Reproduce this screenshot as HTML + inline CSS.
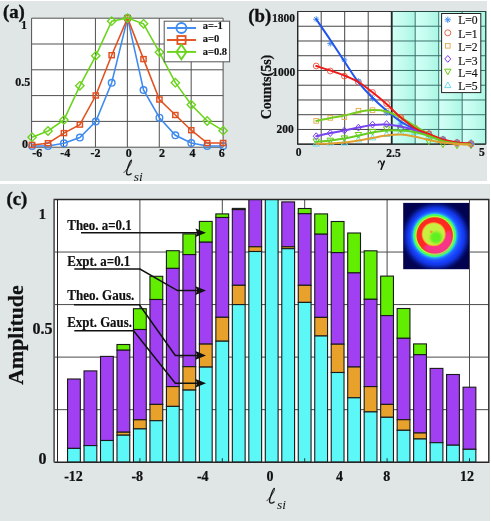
<!DOCTYPE html><html><head><meta charset="utf-8"><style>html,body{margin:0;padding:0;background:#fff;width:491px;height:521px;overflow:hidden}svg{display:block;will-change:transform}</style></head><body>
<svg width="491" height="521" viewBox="0 0 491 521">
<defs>
<linearGradient id="cg" x1="0" x2="1" y1="0" y2="0"><stop offset="0" stop-color="#d4fff8"/><stop offset="0.5" stop-color="#c2fcee"/><stop offset="1" stop-color="#aaf6e4"/></linearGradient>
<radialGradient id="beam" cx="0.5" cy="0.5" r="0.5"><stop offset="0" stop-color="#ffff40"/><stop offset="0.3" stop-color="#d0f040"/><stop offset="0.38" stop-color="#ff4080"/><stop offset="0.55" stop-color="#ff2020"/><stop offset="0.65" stop-color="#ff3030"/><stop offset="0.72" stop-color="#60ff40"/><stop offset="0.78" stop-color="#20e0ff"/><stop offset="0.86" stop-color="#2060ff"/><stop offset="1" stop-color="#1020c0" stop-opacity="0"/></radialGradient>
<clipPath id="clipc"><rect x="54" y="199.5" width="435" height="263"/></clipPath>
</defs>
<rect x="0" y="1" width="487" height="180" fill="#dfe6e5"/>
<rect x="0" y="184" width="490" height="337" fill="#dfe6e5"/>
<rect x="31.6" y="18.2" width="191.5" height="129.0" fill="#fff"/>
<path d="M31.60,18.2V147.2M63.52,18.2V147.2M95.43,18.2V147.2M127.35,18.2V147.2M159.27,18.2V147.2M191.18,18.2V147.2M223.10,18.2V147.2M31.6,18.20H223.1M31.6,44.00H223.1M31.6,69.80H223.1M31.6,95.60H223.1M31.6,121.40H223.1M31.6,147.20H223.1" stroke="#505050" stroke-width="1" fill="none"/>
<polyline points="32.08,145.9 48.00,145.9 63.92,143.3 79.84,137.6 95.76,121.5 111.68,82.8 127.60,18.1 143.52,90 159.44,117.7 175.36,135.3 191.28,143 207.20,146 223.12,146" fill="none" stroke="#3d8af0" stroke-width="1.55"/>
<circle cx="32.08" cy="145.9" r="3.3" fill="none" stroke="#3d8af0" stroke-width="1.4"/>
<circle cx="48.00" cy="145.9" r="3.3" fill="none" stroke="#3d8af0" stroke-width="1.4"/>
<circle cx="63.92" cy="143.3" r="3.3" fill="none" stroke="#3d8af0" stroke-width="1.4"/>
<circle cx="79.84" cy="137.6" r="3.3" fill="none" stroke="#3d8af0" stroke-width="1.4"/>
<circle cx="95.76" cy="121.5" r="3.3" fill="none" stroke="#3d8af0" stroke-width="1.4"/>
<circle cx="111.68" cy="82.8" r="3.3" fill="none" stroke="#3d8af0" stroke-width="1.4"/>
<circle cx="127.60" cy="18.1" r="3.3" fill="none" stroke="#3d8af0" stroke-width="1.4"/>
<circle cx="143.52" cy="90" r="3.3" fill="none" stroke="#3d8af0" stroke-width="1.4"/>
<circle cx="159.44" cy="117.7" r="3.3" fill="none" stroke="#3d8af0" stroke-width="1.4"/>
<circle cx="175.36" cy="135.3" r="3.3" fill="none" stroke="#3d8af0" stroke-width="1.4"/>
<circle cx="191.28" cy="143" r="3.3" fill="none" stroke="#3d8af0" stroke-width="1.4"/>
<circle cx="207.20" cy="146" r="3.3" fill="none" stroke="#3d8af0" stroke-width="1.4"/>
<circle cx="223.12" cy="146" r="3.3" fill="none" stroke="#3d8af0" stroke-width="1.4"/>
<polyline points="32.08,144.9 48.00,143.2 63.92,133.1 79.84,124.6 95.76,95.5 111.68,55.2 127.60,18.1 143.52,59.1 159.44,99.5 175.36,115 191.28,130.2 207.20,143 223.12,143" fill="none" stroke="#e2501f" stroke-width="1.55"/>
<rect x="29.48" y="142.40" width="5.2" height="5" fill="none" stroke="#e2501f" stroke-width="1.45"/>
<rect x="45.40" y="140.70" width="5.2" height="5" fill="none" stroke="#e2501f" stroke-width="1.45"/>
<rect x="61.32" y="130.60" width="5.2" height="5" fill="none" stroke="#e2501f" stroke-width="1.45"/>
<rect x="77.24" y="122.10" width="5.2" height="5" fill="none" stroke="#e2501f" stroke-width="1.45"/>
<rect x="93.16" y="93.00" width="5.2" height="5" fill="none" stroke="#e2501f" stroke-width="1.45"/>
<rect x="109.08" y="52.70" width="5.2" height="5" fill="none" stroke="#e2501f" stroke-width="1.45"/>
<rect x="125.00" y="15.60" width="5.2" height="5" fill="none" stroke="#e2501f" stroke-width="1.45"/>
<rect x="140.92" y="56.60" width="5.2" height="5" fill="none" stroke="#e2501f" stroke-width="1.45"/>
<rect x="156.84" y="97.00" width="5.2" height="5" fill="none" stroke="#e2501f" stroke-width="1.45"/>
<rect x="172.76" y="112.50" width="5.2" height="5" fill="none" stroke="#e2501f" stroke-width="1.45"/>
<rect x="188.68" y="127.70" width="5.2" height="5" fill="none" stroke="#e2501f" stroke-width="1.45"/>
<rect x="204.60" y="140.50" width="5.2" height="5" fill="none" stroke="#e2501f" stroke-width="1.45"/>
<rect x="220.52" y="140.50" width="5.2" height="5" fill="none" stroke="#e2501f" stroke-width="1.45"/>
<polyline points="32.08,137.2 48.00,131 63.92,119.9 79.84,85.8 95.76,55.8 111.68,21.2 127.60,18.1 143.52,23.8 159.44,52.3 175.36,82.7 191.28,104.8 207.20,121 223.12,130.7" fill="none" stroke="#6ad41c" stroke-width="1.55"/>
<path d="M32.08,133.00L36.28,137.20L32.08,141.40L27.88,137.20Z" fill="none" stroke="#6ad41c" stroke-width="1.35"/>
<path d="M48.00,126.80L52.20,131.00L48.00,135.20L43.80,131.00Z" fill="none" stroke="#6ad41c" stroke-width="1.35"/>
<path d="M63.92,115.70L68.12,119.90L63.92,124.10L59.72,119.90Z" fill="none" stroke="#6ad41c" stroke-width="1.35"/>
<path d="M79.84,81.60L84.04,85.80L79.84,90.00L75.64,85.80Z" fill="none" stroke="#6ad41c" stroke-width="1.35"/>
<path d="M95.76,51.60L99.96,55.80L95.76,60.00L91.56,55.80Z" fill="none" stroke="#6ad41c" stroke-width="1.35"/>
<path d="M111.68,17.00L115.88,21.20L111.68,25.40L107.48,21.20Z" fill="none" stroke="#6ad41c" stroke-width="1.35"/>
<path d="M127.60,13.90L131.80,18.10L127.60,22.30L123.40,18.10Z" fill="none" stroke="#6ad41c" stroke-width="1.35"/>
<path d="M143.52,19.60L147.72,23.80L143.52,28.00L139.32,23.80Z" fill="none" stroke="#6ad41c" stroke-width="1.35"/>
<path d="M159.44,48.10L163.64,52.30L159.44,56.50L155.24,52.30Z" fill="none" stroke="#6ad41c" stroke-width="1.35"/>
<path d="M175.36,78.50L179.56,82.70L175.36,86.90L171.16,82.70Z" fill="none" stroke="#6ad41c" stroke-width="1.35"/>
<path d="M191.28,100.60L195.48,104.80L191.28,109.00L187.08,104.80Z" fill="none" stroke="#6ad41c" stroke-width="1.35"/>
<path d="M207.20,116.80L211.40,121.00L207.20,125.20L203.00,121.00Z" fill="none" stroke="#6ad41c" stroke-width="1.35"/>
<path d="M223.12,126.50L227.32,130.70L223.12,134.90L218.92,130.70Z" fill="none" stroke="#6ad41c" stroke-width="1.35"/>
<rect x="164.2" y="21.2" width="65.4" height="40.6" fill="#fff" stroke="#555" stroke-width="1"/>
<path d="M167,28H196" stroke="#3d8af0" stroke-width="1.9"/><circle cx="181.4" cy="28" r="5" fill="none" stroke="#3d8af0" stroke-width="1.8"/>
<path d="M167,40H196" stroke="#e2501f" stroke-width="1.9"/><rect x="177.4" y="36" width="8.2" height="8" fill="none" stroke="#e2501f" stroke-width="1.8"/>
<path d="M167,51.9H196" stroke="#6ad41c" stroke-width="1.9"/><path d="M181.4,44.6L186.4,51.9L181.4,59.3L176.4,51.9Z" fill="none" stroke="#6ad41c" stroke-width="1.8"/>
<g font-family='"Liberation Serif", serif' font-weight="bold" font-size="10.5" fill="#111" stroke="#111" stroke-width="0.15"><text x="202.7" y="28.9">a=-1</text><text x="202.7" y="41.9">a=0</text><text x="202.7" y="55.4">a=0.8</text></g>
<g font-family='"Liberation Serif", serif' font-weight="bold" fill="#111" stroke="#111" stroke-width="0.22">
<text x="2.9" y="18.4" font-size="18.8" stroke="#111" stroke-width="0.35">(a)</text>
<g font-size="12"><text x="27" y="28.6" text-anchor="end">1</text><text x="30.2" y="86.2" text-anchor="end">0.5</text><text x="28" y="148.3" text-anchor="end">0</text>
<text x="37.2" y="157.2" text-anchor="middle">-6</text>
<text x="65.2" y="157.2" text-anchor="middle">-4</text>
<text x="95.5" y="157.2" text-anchor="middle">-2</text>
<text x="128.7" y="157.2" text-anchor="middle">0</text>
<text x="162" y="157.2" text-anchor="middle">2</text>
<text x="192.6" y="157.2" text-anchor="middle">4</text>
<text x="221.8" y="157.2" text-anchor="middle">6</text>
</g></g>
<g transform="translate(124,172.6)" fill="none" stroke="#151515" stroke-linecap="round"><path d="M0,0 C2,-1.8 5,-5.5 6.8,-9 C7.8,-11 8,-12.4 7.4,-12.4" stroke-width="0.85"/><path d="M7.4,-12.4 C6.8,-12.4 5.5,-9.5 4.4,-6.5 C3.4,-3.8 2.5,-1.5 2.6,0.5 C2.7,2.6 4.8,3 7.2,1.2" stroke-width="1.35"/></g>
<text x="133.8" y="181.2" font-family='"Liberation Serif", serif' font-style="italic" font-size="13.5" fill="#111">si</text>
<rect x="297.7" y="11.5" width="188.0" height="132.7" fill="#fff"/>
<rect x="391.70" y="11.5" width="23.50" height="132.7" fill="url(#cg)"/>
<rect x="415.20" y="11.5" width="23.50" height="132.7" fill="url(#cg)"/>
<rect x="438.70" y="11.5" width="23.50" height="132.7" fill="url(#cg)"/>
<rect x="462.20" y="11.5" width="23.50" height="132.7" fill="url(#cg)"/>
<path d="M297.70,11.5V144.2M321.20,11.5V144.2M344.70,11.5V144.2M368.20,11.5V144.2M297.7,11.50H391.70M297.7,26.24H391.70M297.7,40.99H391.70M297.7,55.73H391.70M297.7,70.48H391.70M297.7,85.22H391.70M297.7,99.97H391.70M297.7,114.71H391.70M297.7,129.46H391.70M297.7,144.20H391.70" stroke="#444" stroke-width="1" fill="none"/>
<path d="M391.70,11.5V144.2M415.20,11.5V144.2M438.70,11.5V144.2M462.20,11.5V144.2M485.70,11.5V144.2M391.70,11.50H485.7M391.70,26.24H485.7M391.70,40.99H485.7M391.70,55.73H485.7M391.70,70.48H485.7M391.70,85.22H485.7M391.70,99.97H485.7M391.70,114.71H485.7M391.70,129.46H485.7M391.70,144.20H485.7" stroke="#336b64" stroke-width="0.95" fill="none"/>
<path d="M391.70,11.5V144.2" stroke="#1f2a2a" stroke-width="1.8"/>
<path d="M297.7,11.5V144.2H485.7" fill="none" stroke="#222" stroke-width="1.2"/>
<path d="M297.7,11.5H391.70" fill="none" stroke="#333" stroke-width="1.1"/>
<path d="M391.70,11.5H485.7V144.2" fill="none" stroke="#2a4a46" stroke-width="1.1"/>
<path d="M313.00,146.02H319.40L316.20,140.42Z" fill="none" stroke="#66ddf0" stroke-width="1"/>
<path d="M313.00,138.98H319.40L316.20,144.58Z" fill="none" stroke="#66cc11" stroke-width="1"/>
<path d="M316.20,132.80L319.19,136.20L316.20,139.60L313.21,136.20Z" fill="none" stroke="#7a3cf0" stroke-width="1"/>
<rect x="313.90" y="118.60" width="4.6" height="4.6" fill="none" stroke="#e8a848" stroke-width="0.9"/>
<circle cx="316.20" cy="66.00" r="2.9" fill="none" stroke="#e8553a" stroke-width="0.9"/>
<path d="M316.20,16.20L316.20,22.20M314.08,17.08L318.32,21.32M313.20,19.20L319.20,19.20M314.08,21.32L318.32,17.08" stroke="#4a90f0" stroke-width="1"/>
<path d="M327.08,145.02H333.48L330.28,139.42Z" fill="none" stroke="#66ddf0" stroke-width="1"/>
<path d="M327.08,138.18H333.48L330.28,143.78Z" fill="none" stroke="#66cc11" stroke-width="1"/>
<path d="M330.28,129.70L333.27,133.10L330.28,136.50L327.29,133.10Z" fill="none" stroke="#7a3cf0" stroke-width="1"/>
<rect x="327.98" y="115.60" width="4.6" height="4.6" fill="none" stroke="#e8a848" stroke-width="0.9"/>
<circle cx="330.28" cy="71.00" r="2.9" fill="none" stroke="#e8553a" stroke-width="0.9"/>
<path d="M330.28,40.60L330.28,46.60M328.16,41.48L332.40,45.72M327.28,43.60L333.28,43.60M328.16,45.72L332.40,41.48" stroke="#4a90f0" stroke-width="1"/>
<path d="M341.16,145.02H347.56L344.36,139.42Z" fill="none" stroke="#66ddf0" stroke-width="1"/>
<path d="M341.16,135.88H347.56L344.36,141.48Z" fill="none" stroke="#66cc11" stroke-width="1"/>
<path d="M344.36,127.10L347.35,130.50L344.36,133.90L341.37,130.50Z" fill="none" stroke="#7a3cf0" stroke-width="1"/>
<rect x="342.06" y="114.90" width="4.6" height="4.6" fill="none" stroke="#e8a848" stroke-width="0.9"/>
<circle cx="344.36" cy="76.10" r="2.9" fill="none" stroke="#e8553a" stroke-width="0.9"/>
<path d="M344.36,56.90L344.36,62.90M342.24,57.78L346.48,62.02M341.36,59.90L347.36,59.90M342.24,62.02L346.48,57.78" stroke="#4a90f0" stroke-width="1"/>
<path d="M355.24,141.92H361.64L358.44,136.32Z" fill="none" stroke="#66ddf0" stroke-width="1"/>
<path d="M355.24,132.48H361.64L358.44,138.08Z" fill="none" stroke="#66cc11" stroke-width="1"/>
<path d="M358.44,124.20L361.43,127.60L358.44,131.00L355.45,127.60Z" fill="none" stroke="#7a3cf0" stroke-width="1"/>
<rect x="356.14" y="108.40" width="4.6" height="4.6" fill="none" stroke="#e8a848" stroke-width="0.9"/>
<circle cx="358.44" cy="82.20" r="2.9" fill="none" stroke="#e8553a" stroke-width="0.9"/>
<path d="M358.44,78.20L358.44,84.20M356.32,79.08L360.56,83.32M355.44,81.20L361.44,81.20M356.32,83.32L360.56,79.08" stroke="#4a90f0" stroke-width="1"/>
<path d="M369.32,139.92H375.72L372.52,134.32Z" fill="none" stroke="#66ddf0" stroke-width="1"/>
<path d="M369.32,129.38H375.72L372.52,134.98Z" fill="none" stroke="#66cc11" stroke-width="1"/>
<path d="M372.52,121.20L375.51,124.60L372.52,128.00L369.53,124.60Z" fill="none" stroke="#7a3cf0" stroke-width="1"/>
<rect x="370.22" y="107.80" width="4.6" height="4.6" fill="none" stroke="#e8a848" stroke-width="0.9"/>
<circle cx="372.52" cy="92.40" r="2.9" fill="none" stroke="#e8553a" stroke-width="0.9"/>
<path d="M372.52,95.50L372.52,101.50M370.40,96.38L374.64,100.62M369.52,98.50L375.52,98.50M370.40,100.62L374.64,96.38" stroke="#4a90f0" stroke-width="1"/>
<path d="M383.40,136.42H389.80L386.60,130.82Z" fill="none" stroke="#66ddf0" stroke-width="1"/>
<path d="M383.40,126.78H389.80L386.60,132.38Z" fill="none" stroke="#66cc11" stroke-width="1"/>
<path d="M386.60,120.60L389.59,124.00L386.60,127.40L383.61,124.00Z" fill="none" stroke="#7a3cf0" stroke-width="1"/>
<rect x="384.30" y="108.40" width="4.6" height="4.6" fill="none" stroke="#e8a848" stroke-width="0.9"/>
<circle cx="386.60" cy="103.60" r="2.9" fill="none" stroke="#e8553a" stroke-width="0.9"/>
<path d="M386.60,109.80L386.60,115.80M384.48,110.68L388.72,114.92M383.60,112.80L389.60,112.80M384.48,114.92L388.72,110.68" stroke="#4a90f0" stroke-width="1"/>
<path d="M397.48,134.32H403.88L400.68,128.72Z" fill="none" stroke="#66ddf0" stroke-width="1"/>
<path d="M397.48,127.28H403.88L400.68,132.88Z" fill="none" stroke="#66cc11" stroke-width="1"/>
<path d="M400.68,124.60L403.67,128.00L400.68,131.40L397.69,128.00Z" fill="none" stroke="#7a3cf0" stroke-width="1"/>
<rect x="398.38" y="116.00" width="4.6" height="4.6" fill="none" stroke="#e8a848" stroke-width="0.9"/>
<circle cx="400.68" cy="117.30" r="2.9" fill="none" stroke="#e8553a" stroke-width="0.9"/>
<path d="M400.68,121.00L400.68,127.00M398.56,121.88L402.80,126.12M397.68,124.00L403.68,124.00M398.56,126.12L402.80,121.88" stroke="#4a90f0" stroke-width="1"/>
<path d="M411.56,134.32H417.96L414.76,128.72Z" fill="none" stroke="#66ddf0" stroke-width="1"/>
<path d="M411.56,128.88H417.96L414.76,134.48Z" fill="none" stroke="#66cc11" stroke-width="1"/>
<path d="M414.76,125.10L417.75,128.50L414.76,131.90L411.77,128.50Z" fill="none" stroke="#7a3cf0" stroke-width="1"/>
<rect x="412.46" y="125.70" width="4.6" height="4.6" fill="none" stroke="#e8a848" stroke-width="0.9"/>
<circle cx="414.76" cy="128.50" r="2.9" fill="none" stroke="#e8553a" stroke-width="0.9"/>
<path d="M414.76,125.50L414.76,131.50M412.64,126.38L416.88,130.62M411.76,128.50L417.76,128.50M412.64,130.62L416.88,126.38" stroke="#4a90f0" stroke-width="1"/>
<path d="M425.64,138.32H432.04L428.84,132.72Z" fill="none" stroke="#66ddf0" stroke-width="1"/>
<path d="M425.64,139.08H432.04L428.84,144.68Z" fill="none" stroke="#66cc11" stroke-width="1"/>
<path d="M428.84,130.60L431.83,134.00L428.84,137.40L425.85,134.00Z" fill="none" stroke="#7a3cf0" stroke-width="1"/>
<rect x="426.54" y="131.70" width="4.6" height="4.6" fill="none" stroke="#e8a848" stroke-width="0.9"/>
<circle cx="428.84" cy="133.70" r="2.9" fill="none" stroke="#e8553a" stroke-width="0.9"/>
<path d="M428.84,131.00L428.84,137.00M426.72,131.88L430.96,136.12M425.84,134.00L431.84,134.00M426.72,136.12L430.96,131.88" stroke="#4a90f0" stroke-width="1"/>
<path d="M439.72,141.42H446.12L442.92,135.82Z" fill="none" stroke="#66ddf0" stroke-width="1"/>
<path d="M439.72,142.08H446.12L442.92,147.68Z" fill="none" stroke="#66cc11" stroke-width="1"/>
<path d="M442.92,136.60L445.91,140.00L442.92,143.40L439.93,140.00Z" fill="none" stroke="#7a3cf0" stroke-width="1"/>
<rect x="440.62" y="137.70" width="4.6" height="4.6" fill="none" stroke="#e8a848" stroke-width="0.9"/>
<circle cx="442.92" cy="139.50" r="2.9" fill="none" stroke="#e8553a" stroke-width="0.9"/>
<path d="M442.92,136.00L442.92,142.00M440.80,136.88L445.04,141.12M439.92,139.00L445.92,139.00M440.80,141.12L445.04,136.88" stroke="#4a90f0" stroke-width="1"/>
<path d="M453.80,144.52H460.20L457.00,138.92Z" fill="none" stroke="#66ddf0" stroke-width="1"/>
<path d="M453.80,143.08H460.20L457.00,148.68Z" fill="none" stroke="#66cc11" stroke-width="1"/>
<path d="M457.00,139.60L459.99,143.00L457.00,146.40L454.01,143.00Z" fill="none" stroke="#7a3cf0" stroke-width="1"/>
<rect x="454.70" y="140.70" width="4.6" height="4.6" fill="none" stroke="#e8a848" stroke-width="0.9"/>
<circle cx="457.00" cy="142.50" r="2.9" fill="none" stroke="#e8553a" stroke-width="0.9"/>
<path d="M457.00,139.50L457.00,145.50M454.88,140.38L459.12,144.62M454.00,142.50L460.00,142.50M454.88,144.62L459.12,140.38" stroke="#4a90f0" stroke-width="1"/>
<path d="M467.88,144.72H474.28L471.08,139.12Z" fill="none" stroke="#66ddf0" stroke-width="1"/>
<path d="M467.88,143.08H474.28L471.08,148.68Z" fill="none" stroke="#66cc11" stroke-width="1"/>
<path d="M471.08,140.60L474.07,144.00L471.08,147.40L468.09,144.00Z" fill="none" stroke="#7a3cf0" stroke-width="1"/>
<rect x="468.78" y="141.70" width="4.6" height="4.6" fill="none" stroke="#e8a848" stroke-width="0.9"/>
<circle cx="471.08" cy="143.50" r="2.9" fill="none" stroke="#e8553a" stroke-width="0.9"/>
<path d="M471.08,140.50L471.08,146.50M468.96,141.38L473.20,145.62M468.08,143.50L474.08,143.50M468.96,145.62L473.20,141.38" stroke="#4a90f0" stroke-width="1"/>
<path d="M316.20,19.20 C318.58,22.70 325.82,33.20 330.50,40.20 C335.18,47.20 339.65,54.20 344.30,61.20 C348.95,68.20 353.75,76.15 358.40,82.20 C363.05,88.25 367.52,92.78 372.20,97.50 C376.88,102.22 381.75,106.50 386.50,110.50 C391.25,114.50 396.02,118.42 400.70,121.50 C405.38,124.58 409.90,126.75 414.60,129.00 C419.30,131.25 424.22,133.17 428.90,135.00 C433.58,136.83 438.02,138.70 442.70,140.00 C447.38,141.30 452.35,142.17 457.00,142.80 C461.65,143.43 468.33,143.63 470.60,143.80" fill="none" stroke-linecap="round" stroke="#2255ee" stroke-width="2"/>
<path d="M316.20,136.20 C318.58,135.68 325.82,134.05 330.50,133.10 C335.18,132.15 339.65,131.42 344.30,130.50 C348.95,129.58 353.75,128.52 358.40,127.60 C363.05,126.68 367.52,125.52 372.20,125.00 C376.88,124.48 381.75,124.25 386.50,124.50 C391.25,124.75 396.02,125.58 400.70,126.50 C405.38,127.42 409.90,128.58 414.60,130.00 C419.30,131.42 424.22,133.25 428.90,135.00 C433.58,136.75 438.02,139.17 442.70,140.50 C447.38,141.83 452.35,142.42 457.00,143.00 C461.65,143.58 468.33,143.83 470.60,144.00" fill="none" stroke-linecap="round" stroke="#7744ee" stroke-width="2"/>
<path d="M316.20,120.90 C318.58,120.42 325.82,118.90 330.50,118.00 C335.18,117.10 339.65,116.50 344.30,115.50 C348.95,114.50 353.75,112.90 358.40,112.00 C363.05,111.10 367.52,110.18 372.20,110.10 C376.88,110.02 381.75,110.27 386.50,111.50 C391.25,112.73 396.02,115.08 400.70,117.50 C405.38,119.92 409.90,123.25 414.60,126.00 C419.30,128.75 424.22,131.67 428.90,134.00 C433.58,136.33 438.02,138.50 442.70,140.00 C447.38,141.50 452.35,142.33 457.00,143.00 C461.65,143.67 468.33,143.83 470.60,144.00" fill="none" stroke-linecap="round" stroke="#77cc22" stroke-width="2"/>
<path d="M316.20,66.00 C318.58,66.75 325.82,68.92 330.50,70.50 C335.18,72.08 339.65,73.58 344.30,75.50 C348.95,77.42 353.75,79.25 358.40,82.00 C363.05,84.75 367.52,88.33 372.20,92.00 C376.88,95.67 381.75,99.78 386.50,104.00 C391.25,108.22 396.02,113.30 400.70,117.30 C405.38,121.30 409.90,125.22 414.60,128.00 C419.30,130.78 424.22,132.08 428.90,134.00 C433.58,135.92 438.02,138.08 442.70,139.50 C447.38,140.92 452.35,141.83 457.00,142.50 C461.65,143.17 468.33,143.33 470.60,143.50" fill="none" stroke-linecap="round" stroke="#ee1a1a" stroke-width="2"/>
<path d="M316.20,141.70 C318.58,141.50 325.82,141.03 330.50,140.50 C335.18,139.97 339.65,139.33 344.30,138.50 C348.95,137.67 353.75,136.50 358.40,135.50 C363.05,134.50 367.52,133.33 372.20,132.50 C376.88,131.67 381.75,130.83 386.50,130.50 C391.25,130.17 396.02,130.25 400.70,130.50 C405.38,130.75 409.90,131.08 414.60,132.00 C419.30,132.92 424.22,134.50 428.90,136.00 C433.58,137.50 438.02,139.75 442.70,141.00 C447.38,142.25 452.35,142.92 457.00,143.50 C461.65,144.08 468.33,144.33 470.60,144.50" fill="none" stroke-linecap="round" stroke="#66cc22" stroke-width="2"/>
<path d="M316.20,143.80 C318.58,143.75 325.82,143.72 330.50,143.50 C335.18,143.28 339.65,143.00 344.30,142.50 C348.95,142.00 353.75,141.25 358.40,140.50 C363.05,139.75 367.52,138.83 372.20,138.00 C376.88,137.17 381.75,136.08 386.50,135.50 C391.25,134.92 396.02,134.33 400.70,134.50 C405.38,134.67 409.90,135.58 414.60,136.50 C419.30,137.42 424.22,139.00 428.90,140.00 C433.58,141.00 438.02,141.83 442.70,142.50 C447.38,143.17 452.35,143.67 457.00,144.00 C461.65,144.33 468.33,144.42 470.60,144.50" fill="none" stroke-linecap="round" stroke="#e0a030" stroke-width="2"/>
<rect x="441.6" y="13.5" width="39.2" height="79.1" fill="#fff" stroke="#222" stroke-width="1"/>
<path d="M447.80,16.60L447.80,23.00M445.54,17.54L450.06,22.06M444.60,19.80L451.00,19.80M445.54,22.06L450.06,17.54" stroke="#4a90f0" stroke-width="1"/>
<circle cx="447.80" cy="32.80" r="3.0" fill="none" stroke="#e8553a" stroke-width="0.9"/>
<rect x="445.50" y="43.50" width="4.6" height="4.6" fill="none" stroke="#e8a848" stroke-width="0.9"/>
<path d="M447.80,55.50L450.79,58.90L447.80,62.30L444.81,58.90Z" fill="none" stroke="#7a3cf0" stroke-width="1"/>
<path d="M444.60,69.18H451.00L447.80,74.78Z" fill="none" stroke="#66cc11" stroke-width="1"/>
<path d="M444.60,87.62H451.00L447.80,82.02Z" fill="none" stroke="#66ddf0" stroke-width="1"/>
<g font-family='"Liberation Serif", serif' font-size="13.2" fill="#111" stroke="#111" stroke-width="0.18">
<text x="458.2" y="24.2" textLength="19.5" lengthAdjust="spacingAndGlyphs">L=0</text>
<text x="458.2" y="37.6" textLength="19.5" lengthAdjust="spacingAndGlyphs">L=1</text>
<text x="458.2" y="50.7" textLength="19.5" lengthAdjust="spacingAndGlyphs">L=2</text>
<text x="458.2" y="64.5" textLength="19.5" lengthAdjust="spacingAndGlyphs">L=3</text>
<text x="458.2" y="76.8" textLength="19.5" lengthAdjust="spacingAndGlyphs">L=4</text>
<text x="458.2" y="90.2" textLength="19.5" lengthAdjust="spacingAndGlyphs">L=5</text>
</g>
<g font-family='"Liberation Serif", serif' font-weight="bold" fill="#111" stroke="#111" stroke-width="0.22">
<text x="248.2" y="22.2" font-size="18.8" stroke="#111" stroke-width="0.35">(b)</text>
<g font-size="11.5"><text x="295" y="22.2" text-anchor="end">1800</text><text x="295.3" y="76.2" text-anchor="end">1000</text><text x="293.7" y="133" text-anchor="end">200</text>
<text x="298.5" y="156" text-anchor="middle">0</text><text x="393.5" y="156.5" text-anchor="middle">2.5</text><text x="481.8" y="156" text-anchor="middle">5</text></g>
<text transform="translate(270.5,87) rotate(-90)" font-size="14" text-anchor="middle">Counts(5s)</text>
<path d="M378.2,162.9 C378.5,160.9 380.1,160.2 380.9,161.8 C381.4,163 381.8,164.4 382.1,165.6" fill="none" stroke="#111" stroke-width="1.05" stroke-linecap="round"/><path d="M384.3,161.1 L381.1,169.3" stroke="#111" stroke-width="1.55" stroke-linecap="round"/>
</g>
<rect x="54.2" y="199.5" width="434.6" height="262.7" fill="#fff"/>
<path d="M57.50,199.5V462.2M139.90,199.5V462.2M222.30,199.5V462.2M304.70,199.5V462.2M387.10,199.5V462.2M469.50,199.5V462.2M54.2,252.04H488.8M54.2,304.58H488.8M54.2,357.12H488.8M54.2,409.66H488.8" stroke="#4a4a4a" stroke-width="1" fill="none"/>
<g clip-path="url(#clipc)" stroke="#1a1a1a" stroke-width="1.1">
<rect x="67.54" y="379" width="12.8" height="69.40" fill="#a040f2"/>
<rect x="67.54" y="448.4" width="12.8" height="13.80" fill="#5cf8f8"/>
<rect x="84.02" y="370.9" width="12.8" height="74.70" fill="#a040f2"/>
<rect x="84.02" y="445.6" width="12.8" height="16.60" fill="#5cf8f8"/>
<rect x="100.50" y="356.4" width="12.8" height="84.10" fill="#a040f2"/>
<rect x="100.50" y="440.5" width="12.8" height="21.70" fill="#5cf8f8"/>
<rect x="116.98" y="344.5" width="12.8" height="5.70" fill="#62ee00"/>
<rect x="116.98" y="350.2" width="12.8" height="82.00" fill="#a040f2"/>
<rect x="116.98" y="432.2" width="12.8" height="3.00" fill="#e8a22c"/>
<rect x="116.98" y="435.2" width="12.8" height="27.00" fill="#5cf8f8"/>
<rect x="133.46" y="308.7" width="12.8" height="20.80" fill="#62ee00"/>
<rect x="133.46" y="329.5" width="12.8" height="90.30" fill="#a040f2"/>
<rect x="133.46" y="419.8" width="12.8" height="9.10" fill="#e8a22c"/>
<rect x="133.46" y="428.9" width="12.8" height="33.30" fill="#5cf8f8"/>
<rect x="149.94" y="276.3" width="12.8" height="23.20" fill="#62ee00"/>
<rect x="149.94" y="299.5" width="12.8" height="104.90" fill="#a040f2"/>
<rect x="149.94" y="404.4" width="12.8" height="16.30" fill="#e8a22c"/>
<rect x="149.94" y="420.7" width="12.8" height="41.50" fill="#5cf8f8"/>
<rect x="166.42" y="250.7" width="12.8" height="17.70" fill="#62ee00"/>
<rect x="166.42" y="268.4" width="12.8" height="118.20" fill="#a040f2"/>
<rect x="166.42" y="386.6" width="12.8" height="19.80" fill="#e8a22c"/>
<rect x="166.42" y="406.4" width="12.8" height="55.80" fill="#5cf8f8"/>
<rect x="182.90" y="233.9" width="12.8" height="20.70" fill="#62ee00"/>
<rect x="182.90" y="254.6" width="12.8" height="112.10" fill="#a040f2"/>
<rect x="182.90" y="366.7" width="12.8" height="23.40" fill="#e8a22c"/>
<rect x="182.90" y="390.1" width="12.8" height="72.10" fill="#5cf8f8"/>
<rect x="199.38" y="221.4" width="12.8" height="20.80" fill="#62ee00"/>
<rect x="199.38" y="242.2" width="12.8" height="101.90" fill="#a040f2"/>
<rect x="199.38" y="344.1" width="12.8" height="23.00" fill="#e8a22c"/>
<rect x="199.38" y="367.1" width="12.8" height="95.10" fill="#5cf8f8"/>
<rect x="215.86" y="213.9" width="12.8" height="3.60" fill="#62ee00"/>
<rect x="215.86" y="217.5" width="12.8" height="99.80" fill="#a040f2"/>
<rect x="215.86" y="317.3" width="12.8" height="23.90" fill="#e8a22c"/>
<rect x="215.86" y="341.2" width="12.8" height="121.00" fill="#5cf8f8"/>
<rect x="232.34" y="208.4" width="12.8" height="1.20" fill="#62ee00"/>
<rect x="232.34" y="209.6" width="12.8" height="75.70" fill="#a040f2"/>
<rect x="232.34" y="285.3" width="12.8" height="19.30" fill="#e8a22c"/>
<rect x="232.34" y="304.6" width="12.8" height="157.60" fill="#5cf8f8"/>
<rect x="248.82" y="190" width="12.8" height="56.80" fill="#a040f2"/>
<rect x="248.82" y="246.8" width="12.8" height="4.70" fill="#e8a22c"/>
<rect x="248.82" y="251.5" width="12.8" height="210.70" fill="#5cf8f8"/>
<rect x="265.30" y="190" width="12.8" height="272.20" fill="#5cf8f8"/>
<rect x="281.78" y="201.9" width="12.8" height="44.90" fill="#a040f2"/>
<rect x="281.78" y="246.8" width="12.8" height="1.90" fill="#e8a22c"/>
<rect x="281.78" y="248.7" width="12.8" height="213.50" fill="#5cf8f8"/>
<rect x="298.26" y="208.5" width="12.8" height="5.20" fill="#62ee00"/>
<rect x="298.26" y="213.7" width="12.8" height="71.60" fill="#a040f2"/>
<rect x="298.26" y="285.3" width="12.8" height="17.10" fill="#e8a22c"/>
<rect x="298.26" y="302.4" width="12.8" height="159.80" fill="#5cf8f8"/>
<rect x="314.74" y="213.9" width="12.8" height="20.30" fill="#62ee00"/>
<rect x="314.74" y="234.2" width="12.8" height="83.20" fill="#a040f2"/>
<rect x="314.74" y="317.4" width="12.8" height="18.60" fill="#e8a22c"/>
<rect x="314.74" y="336" width="12.8" height="126.20" fill="#5cf8f8"/>
<rect x="331.22" y="221.5" width="12.8" height="31.10" fill="#62ee00"/>
<rect x="331.22" y="252.6" width="12.8" height="91.60" fill="#a040f2"/>
<rect x="331.22" y="344.2" width="12.8" height="28.30" fill="#e8a22c"/>
<rect x="331.22" y="372.5" width="12.8" height="89.70" fill="#5cf8f8"/>
<rect x="347.70" y="233" width="12.8" height="39.90" fill="#62ee00"/>
<rect x="347.70" y="272.9" width="12.8" height="94.10" fill="#a040f2"/>
<rect x="347.70" y="367" width="12.8" height="30.80" fill="#e8a22c"/>
<rect x="347.70" y="397.8" width="12.8" height="64.40" fill="#5cf8f8"/>
<rect x="364.18" y="250.8" width="12.8" height="48.50" fill="#62ee00"/>
<rect x="364.18" y="299.3" width="12.8" height="87.30" fill="#a040f2"/>
<rect x="364.18" y="386.6" width="12.8" height="25.30" fill="#e8a22c"/>
<rect x="364.18" y="411.9" width="12.8" height="50.30" fill="#5cf8f8"/>
<rect x="380.66" y="276.1" width="12.8" height="39.50" fill="#62ee00"/>
<rect x="380.66" y="315.6" width="12.8" height="88.80" fill="#a040f2"/>
<rect x="380.66" y="404.4" width="12.8" height="12.90" fill="#e8a22c"/>
<rect x="380.66" y="417.3" width="12.8" height="44.90" fill="#5cf8f8"/>
<rect x="397.14" y="308.5" width="12.8" height="29.80" fill="#62ee00"/>
<rect x="397.14" y="338.3" width="12.8" height="81.40" fill="#a040f2"/>
<rect x="397.14" y="419.7" width="12.8" height="10.60" fill="#e8a22c"/>
<rect x="397.14" y="430.3" width="12.8" height="31.90" fill="#5cf8f8"/>
<rect x="413.62" y="343.9" width="12.8" height="10.80" fill="#62ee00"/>
<rect x="413.62" y="354.7" width="12.8" height="78.30" fill="#a040f2"/>
<rect x="413.62" y="433" width="12.8" height="6.00" fill="#e8a22c"/>
<rect x="413.62" y="439" width="12.8" height="23.20" fill="#5cf8f8"/>
<rect x="430.10" y="368.4" width="12.8" height="74.30" fill="#a040f2"/>
<rect x="430.10" y="442.7" width="12.8" height="19.50" fill="#5cf8f8"/>
<rect x="446.58" y="374.5" width="12.8" height="70.70" fill="#a040f2"/>
<rect x="446.58" y="445.2" width="12.8" height="17.00" fill="#5cf8f8"/>
<rect x="463.06" y="387.2" width="12.8" height="62.10" fill="#a040f2"/>
<rect x="463.06" y="449.3" width="12.8" height="12.90" fill="#5cf8f8"/>
</g>
<path d="M57.50,458.2V462.2" stroke="#333" stroke-width="1"/>
<path d="M139.90,458.2V462.2" stroke="#333" stroke-width="1"/>
<path d="M222.30,458.2V462.2" stroke="#333" stroke-width="1"/>
<path d="M304.70,458.2V462.2" stroke="#333" stroke-width="1"/>
<path d="M387.10,458.2V462.2" stroke="#333" stroke-width="1"/>
<path d="M469.50,458.2V462.2" stroke="#333" stroke-width="1"/>
<path d="M54.2,462.2V199.5H488.8V462.2H54.2" fill="none" stroke="#262626" stroke-width="1.4"/>
<path d="M54.2,199.5V462.2" stroke="#6a6a6a" stroke-width="1.2"/>
<path d="M57.5,199.5V462.2" stroke="#222" stroke-width="1"/>
<defs><filter id="bl3" x="-50%" y="-50%" width="200%" height="200%"><feGaussianBlur stdDeviation="2.6"/></filter><filter id="bl1" x="-50%" y="-50%" width="200%" height="200%"><feGaussianBlur stdDeviation="1.0"/></filter><filter id="bl05" x="-50%" y="-50%" width="200%" height="200%"><feGaussianBlur stdDeviation="0.7"/></filter><clipPath id="clipbeam"><rect x="403.2" y="202.9" width="65.8" height="66.3"/></clipPath></defs>
<rect x="403.2" y="202.9" width="65.8" height="66.3" fill="#02024e"/>
<g clip-path="url(#clipbeam)">
<circle cx="436" cy="236.5" r="31" fill="#1840ff" filter="url(#bl3)"/>
<circle cx="435.5" cy="236" r="25.5" fill="#2058ff" filter="url(#bl1)"/>
<circle cx="434.8" cy="235.6" r="22.6" fill="#28d8f0" filter="url(#bl1)"/>
<circle cx="434.7" cy="235.5" r="21.4" fill="#48ff60" filter="url(#bl05)"/>
<circle cx="434.7" cy="235.5" r="19.4" fill="#b0ff30" filter="url(#bl05)"/>
<circle cx="434.7" cy="235.4" r="18.2" fill="#ff2a20" filter="url(#bl05)"/>
<path d="M449.5,230 A15,15 0 0 1 423,247 L429.5,243.5 A10.5,10.5 0 0 0 444.5,233.5 Z" fill="#f040f0" opacity="0.5" filter="url(#bl1)"/>
<circle cx="433.7" cy="234.3" r="12" fill="#ffa030" filter="url(#bl05)"/>
<circle cx="433.7" cy="234.3" r="11" fill="#c8f040" filter="url(#bl05)"/>
<circle cx="436" cy="237.6" r="6" fill="#60f020" filter="url(#bl1)"/>
<circle cx="431.2" cy="231.8" r="1.4" fill="#f0a030" filter="url(#bl05)"/>
</g>
<g font-family='"Liberation Serif", serif' font-weight="bold" font-size="14.3" fill="#111" stroke="#111" stroke-width="0.2">
<text x="67.3" y="229.7" textLength="64.3" lengthAdjust="spacingAndGlyphs">Theo. a=0.1</text>
<text x="67.3" y="266.3" textLength="63" lengthAdjust="spacingAndGlyphs">Expt. a=0.1</text>
<text x="67.3" y="299.7" textLength="67" lengthAdjust="spacingAndGlyphs">Theo. Gaus.</text>
<text x="67.3" y="327.3" textLength="64.6" lengthAdjust="spacingAndGlyphs">Expt. Gaus.</text>
</g>
<g stroke="#111" stroke-width="1.5" fill="none">
<path d="M81,232.8H197"/>
<path d="M74.3,269H140L177.5,290.6H197"/>
<path d="M74,304.8H139.4L175.3,355.4H197"/>
<path d="M74.3,330.8H133.6L175.3,383.2H197"/>
</g>
<g fill="#111">
<path d="M206,232.8L195.5,228.5L197,232.8L195.5,237.10000000000002Z"/>
<path d="M206,290.6L195.5,286.3L197,290.6L195.5,294.90000000000003Z"/>
<path d="M206,355.4L195.5,351.09999999999997L197,355.4L195.5,359.7Z"/>
<path d="M206,383.2L195.5,378.9L197,383.2L195.5,387.5Z"/>
</g>
<g font-family='"Liberation Serif", serif' font-weight="bold" fill="#111" stroke="#111" stroke-width="0.22">
<text x="6.5" y="205.2" font-size="18.8" stroke="#111" stroke-width="0.35">(c)</text>
<g font-size="14.5"><text x="46" y="218.6" text-anchor="end">1</text><text x="52.6" y="333.9" text-anchor="end" font-size="16">0.5</text><text x="46.6" y="464" text-anchor="end" font-size="16">0</text></g><g font-size="14">
<text x="73.5" y="480.7" text-anchor="middle">-12</text>
<text x="137.3" y="480.7" text-anchor="middle">-8</text>
<text x="202.8" y="480.7" text-anchor="middle">-4</text>
<text x="270" y="480.7" text-anchor="middle">0</text>
<text x="339.6" y="480.7" text-anchor="middle">4</text>
<text x="386.8" y="480.7" text-anchor="middle">8</text>
<text x="467.1" y="480.7" text-anchor="middle">12</text>
</g>
<text transform="translate(23.4,335) rotate(-90)" font-size="21.8" text-anchor="middle">Amplitude</text>
</g>
<g transform="translate(266.9,500.8)" fill="none" stroke="#151515" stroke-linecap="round"><path d="M0,0 C2,-1.8 5,-5.5 6.8,-9 C7.8,-11 8,-12.4 7.4,-12.4" stroke-width="0.85"/><path d="M7.4,-12.4 C6.8,-12.4 5.5,-9.5 4.4,-6.5 C3.4,-3.8 2.5,-1.5 2.6,0.5 C2.7,2.6 4.8,3 7.2,1.2" stroke-width="1.35"/></g>
<text x="277" y="508.8" font-family='"Liberation Serif", serif' font-style="italic" font-size="13.5" fill="#111">si</text>
</svg></body></html>
